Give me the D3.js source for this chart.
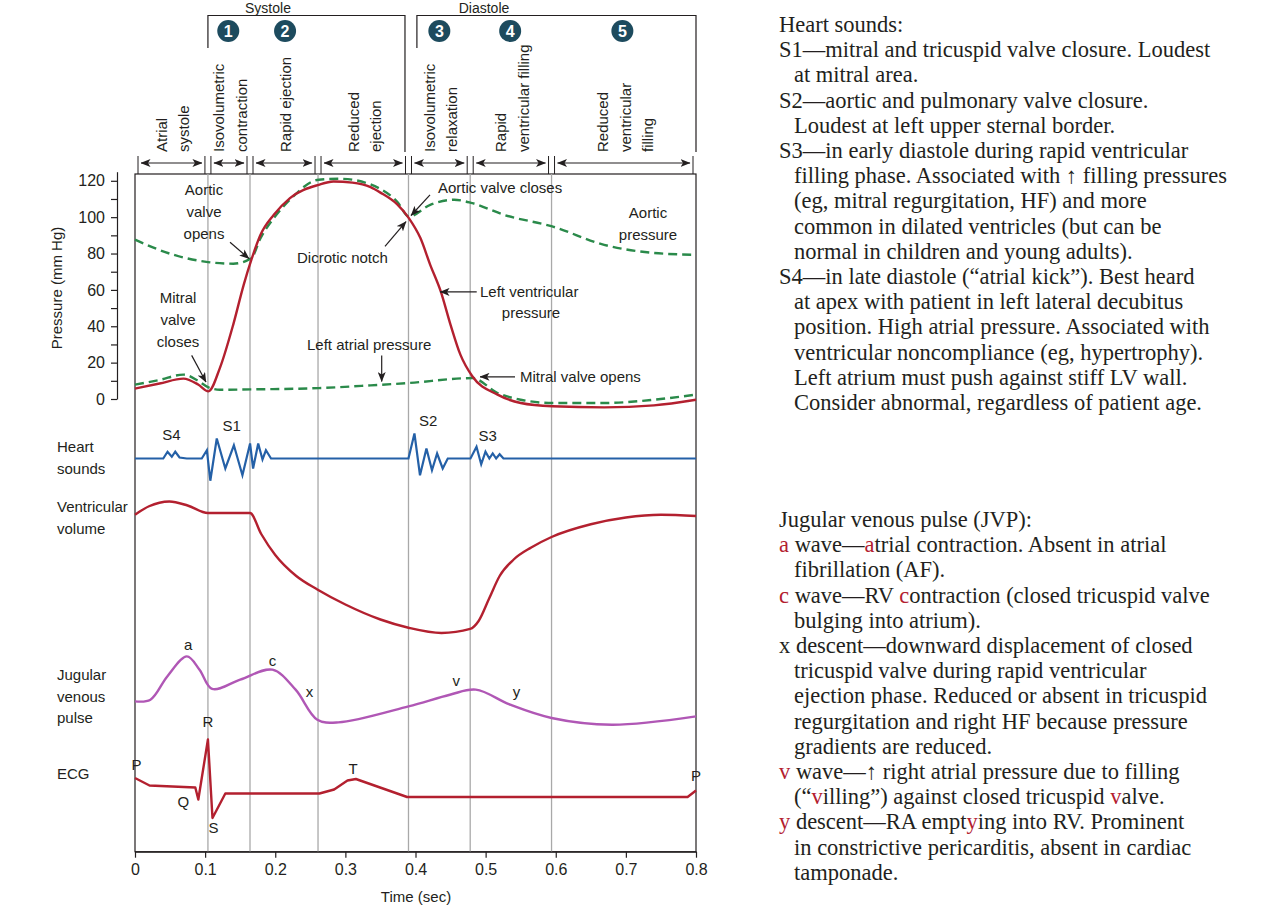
<!DOCTYPE html>
<html>
<head>
<meta charset="utf-8">
<script src="https://cdn.jsdelivr.net/npm/d3@7"></script>
<style>
  body { margin: 0; background: #fff; }
  svg { display: block; }
  .lab { font-family: "Liberation Sans Narrow", "Arial Narrow", "Liberation Sans", sans-serif; font-size: 15px; fill: #231f20; }
  .note { font-family: "Liberation Serif", "DejaVu Serif", serif; font-size: 22.5px; fill: #231f20; }
  .axis text { font-family: "Liberation Sans Narrow", "Liberation Sans", sans-serif; font-size: 16px; fill: #231f20; }
  .axis path, .axis line { stroke: #231f20; stroke-width: 1.2; }
</style>
</head>
<body>
<div id="chart"></div>
<script>
// phase boundaries (sec)
var phases = [0, 0.104, 0.164, 0.261, 0.390, 0.478, 0.594, 0.8];
var phaseNames = [
  ["Atrial", "systole"],
  ["Isovolumetric", "contraction"],
  ["Rapid ejection"],
  ["Reduced", "ejection"],
  ["Isovolumetric", "relaxation"],
  ["Rapid", "ventricular filling"],
  ["Reduced", "ventricular", "filling"]
];
var phaseNumbers = [["1", 0.133], ["2", 0.214], ["3", 0.434], ["4", 0.535], ["5", 0.695]];

// pressures (mm Hg) [t, p]
var lvPressure = [[0,5.7],[0.035,8.5],[0.069,11.2],[0.09,8],[0.1047,4.2],[0.121,17],[0.14,40.8],[0.155,62.8],
  [0.166,76.6],[0.179,90.3],[0.198,101.3],[0.221,110.5],[0.262,117.8],[0.283,119.6],[0.31,119],[0.336,116.5],
  [0.35,113.5],[0.374,107],[0.3905,99.5],[0.407,88.5],[0.421,73.8],[0.436,59.2],[0.45,40.8],[0.464,24.4],
  [0.481,12.5],[0.517,2.4],[0.55,-2.2],[0.595,-4.0],[0.669,-4.6],[0.74,-3.5],[0.8,-0.4]];
var aorticPressure = [[0,87.6],[0.055,79.3],[0.104,75.3],[0.14,74.4],[0.166,77.5],[0.179,88.5],[0.198,99.5],
  [0.221,109.6],[0.262,120.6],[0.293,121.1],[0.336,118],[0.35,115.5],[0.374,108.5],[0.3905,100.4],[0.421,106.8],
  [0.455,109.6],[0.481,107.7],[0.526,101.3],[0.595,94.9],[0.669,84.8],[0.74,80.3],[0.8,79.3]];
var atrialPressure = [[0,7.9],[0.035,10.5],[0.069,13.4],[0.09,10],[0.1047,6.4],[0.121,5.1],[0.166,5.3],[0.262,6.0],
  [0.336,7.5],[0.3905,8.8],[0.481,11.5],[0.517,3.3],[0.55,-0.4],[0.595,-2.2],[0.669,-2.2],[0.74,-0.4],[0.8,2.4]];

// heart sounds (relative amplitude)
var heartSounds = [[0,0],[0.0403,0],[0.0464,0.27],[0.0525,0.07],[0.0574,0.27],[0.0635,0.04],[0.0738,0],
  [0.0952,0],[0.1025,0.33],[0.1074,-0.89],[0.1166,0.8],[0.1288,-0.4],[0.141,0.53],[0.1532,-0.67],[0.1641,0.6],
  [0.1684,-0.4],[0.1757,0.6],[0.1818,-0.04],[0.1867,0.33],[0.194,0],
  [0.39,0],[0.3985,1.0],[0.4064,-0.67],[0.4156,0.4],[0.4235,-0.47],[0.4308,0.2],[0.4388,-0.4],[0.446,0],
  [0.4784,0],[0.487,0.47],[0.4937,-0.23],[0.4998,0.27],[0.5053,0],[0.5101,0.2],[0.515,0],[0.52,0.17],
  [0.5254,0],[0.5315,0],[0.8,0]];
var soundLabels = [["S4",0.052,0.95],["S1",0.138,1.3],["S2",0.418,1.5],["S3",0.503,0.9]];

// ventricular volume (mL)
var ventVolume = [[0,125.9],[0.02,131.5],[0.049,134.7],[0.075,132],[0.104,127],[0.164,127],[0.18,113],
  [0.2,99],[0.23,85],[0.26,76],[0.3,66],[0.35,56],[0.39,50.5],[0.437,47],[0.478,49.7],[0.49,55],[0.505,70],
  [0.52,85],[0.54,96],[0.565,104],[0.594,111],[0.65,119.5],[0.7,124],[0.75,125.8],[0.8,125]];

// jugular venous pulse (relative)
var jvp = [[0,3.58],[0.022,3.79],[0.046,6.7],[0.074,9.2],[0.092,7.54],[0.110,5.13],[0.15,6.29],[0.196,7.54],
  [0.229,5.04],[0.26,1.29],[0.29,0.95],[0.39,2.95],[0.449,4.41],[0.486,5.04],[0.535,3.16],[0.594,1.5],
  [0.68,0.66],[0.8,1.7]];
var jvpLabels = [["a",0.076,10.6],["c",0.196,8.6],["x",0.249,4.8],["v",0.458,6.1],["y",0.544,4.8]];

// ECG (mV)
var ecg = [[0,0.38],[0.0207,0.23],[0.086,0.19],[0.0903,-0.05],[0.104,1.15],[0.1105,-0.42],[0.1288,0.07],
  [0.263,0.07],[0.284,0.15],[0.303,0.33],[0.315,0.36],[0.3515,0.18],[0.388,0],[0.788,0],[0.8,0.13]];
var ecgLabels = [["P",0.002,0.65],["Q",0.069,-0.09],["R",0.104,1.5],["S",0.112,-0.62],["T",0.311,0.56],["P",0.8,0.42]];

var timeTicks = [0, 0.1, 0.2, 0.3, 0.4, 0.5, 0.6, 0.7, 0.8];
var pressureTicks = d3.range(0, 121, 10);

var heartNotes = [
  [0, "Heart sounds:"],
  [0, "S1—mitral and tricuspid valve closure. Loudest"],
  [1, "at mitral area."],
  [0, "S2—aortic and pulmonary valve closure."],
  [1, "Loudest at left upper sternal border."],
  [0, "S3—in early diastole during rapid ventricular"],
  [1, "filling phase. Associated with ↑ filling pressures"],
  [1, "(eg, mitral regurgitation, HF) and more"],
  [1, "common in dilated ventricles (but can be"],
  [1, "normal in children and young adults)."],
  [0, "S4—in late diastole (“atrial kick”). Best heard"],
  [1, "at apex with patient in left lateral decubitus"],
  [1, "position. High atrial pressure. Associated with"],
  [1, "ventricular noncompliance (eg, hypertrophy)."],
  [1, "Left atrium must push against stiff LV wall."],
  [1, "Consider abnormal, regardless of patient age."]
];
var jvpNotes = [
  [0, "Jugular venous pulse (JVP):"],
  [0, "[a] wave—[a]trial contraction. Absent in atrial"],
  [1, "fibrillation (AF)."],
  [0, "[c] wave—RV [c]ontraction (closed tricuspid valve"],
  [1, "bulging into atrium)."],
  [0, "x descent—downward displacement of closed"],
  [1, "tricuspid valve during rapid ventricular"],
  [1, "ejection phase. Reduced or absent in tricuspid"],
  [1, "regurgitation and right HF because pressure"],
  [1, "gradients are reduced."],
  [0, "[v] wave—↑ right atrial pressure due to filling"],
  [1, "(“[v]illing”) against closed tricuspid [v]alve."],
  [0, "[y] descent—RA empt[y]ing into RV. Prominent"],
  [1, "in constrictive pericarditis, absent in cardiac"],
  [1, "tamponade."]
];

var red = "#b3202f", green = "#2a8a4a", blue = "#2460a7", purple = "#b057b5", ink = "#231f20";

var svg = d3.select("#chart").append("svg").attr("width", 1276).attr("height", 918);

var x = d3.scaleLinear().domain([0, 0.8]).range([135, 696]);
var yP = d3.scaleLinear().domain([0, 125]).range([399, 171.7]);
var yS = d3.scaleLinear().domain([-1, 1]).range([483.5, 433.5]);
var yV = d3.scaleLinear().domain([45, 135]).range([636, 501]);
var yJ = d3.scaleLinear().domain([0, 10]).range([730, 650]);
var yE = d3.scaleLinear().domain([0, 1]).range([797, 747]);
var frameTop = 174, frameBottom = 851.7;

var defs = svg.append("defs");
defs.append("marker").attr("id", "head").attr("viewBox", "0 0 10 8")
  .attr("refX", 9.5).attr("refY", 4).attr("markerWidth", 10).attr("markerHeight", 8)
  .attr("markerUnits", "userSpaceOnUse").attr("orient", "auto-start-reverse")
  .append("path").attr("d", "M0,0 L10,4 L0,8 L2.5,4 Z").attr("fill", ink);

// frame
svg.append("rect").attr("x", x(0)).attr("y", frameTop).attr("width", x(0.8) - x(0)).attr("height", frameBottom - frameTop)
  .attr("fill", "none").attr("stroke", ink).attr("stroke-width", 1.2);

// phase dividers
svg.selectAll(".divider").data(phases.slice(1, -1)).join("line")
  .attr("x1", d => x(d)).attr("x2", d => x(d)).attr("y1", frameTop).attr("y2", frameBottom)
  .attr("stroke", "#a9a9a9").attr("stroke-width", 1.3);

// systole / diastole brackets [label, from, to, label x]
var brackets = [["Systole", phases[1], 0.385, 268], ["Diastole", 0.402, phases[7], 484]];
brackets.forEach(function(b) {
  svg.append("path")
    .attr("d", "M" + x(b[1]) + ",48 V15.5 H" + x(b[2]) + " V152")
    .attr("fill", "none").attr("stroke", ink).attr("stroke-width", 1.2);
  svg.append("text").attr("class", "lab").attr("x", b[3]).attr("y", 13)
    .attr("text-anchor", "middle").style("font-size", "14px").text(b[0]);
});

// numbered circles
var nums = svg.selectAll(".num").data(phaseNumbers).join("g")
  .attr("transform", d => "translate(" + x(d[1]) + ",31)");
nums.append("circle").attr("r", 11).attr("fill", "#1d4b5e");
nums.append("text").attr("text-anchor", "middle").attr("dy", "0.36em")
  .style("font-family", "Liberation Sans, sans-serif").style("font-weight", "bold")
  .style("font-size", "16px").attr("fill", "#fff").text(d => d[0]);

// phase names (rotated) and span arrows
phaseNames.forEach(function(lines, i) {
  var cx = x((phases[i] + phases[i + 1]) / 2) + 1.5;
  lines.forEach(function(l, j) {
    var lx = cx + (j - (lines.length - 1) / 2) * 22.5;
    svg.append("text").attr("class", "lab")
      .attr("transform", "translate(" + lx + ",152) rotate(-90)")
      .attr("dy", "0.35em").text(l);
  });
  var a = x(phases[i]), b = x(phases[i + 1]);
  svg.append("line").attr("x1", a + 6).attr("x2", b - 6).attr("y1", 163).attr("y2", 163)
    .attr("stroke", ink).attr("stroke-width", 1.2)
    .attr("marker-start", "url(#head)").attr("marker-end", "url(#head)");
  [a + 3, b - 3].forEach(function(tx) {
    svg.append("line").attr("x1", tx).attr("x2", tx).attr("y1", 156).attr("y2", frameTop)
      .attr("stroke", ink).attr("stroke-width", 1);
  });
});

// pressure axis
svg.append("g").attr("class", "axis").attr("transform", "translate(117,0)")
  .call(d3.axisLeft(yP).tickValues(pressureTicks).tickSize(6).tickPadding(6).tickSizeOuter(0)
    .tickFormat(d => d % 20 === 0 ? d : ""));
svg.append("text").attr("class", "lab").attr("transform", "translate(57,288) rotate(-90)")
  .attr("text-anchor", "middle").attr("dy", "0.35em").text("Pressure (mm Hg)");

// time axis
svg.append("g").attr("class", "axis").attr("transform", "translate(0," + frameBottom + ")")
  .call(d3.axisBottom(x).tickValues(timeTicks).tickSize(6).tickPadding(6).tickSizeOuter(0)
    .tickFormat(d => d === 0 ? "0" : d3.format(".1f")(d)));
svg.append("text").attr("class", "lab").attr("x", 416).attr("y", 902).attr("text-anchor", "middle").text("Time (sec)");

// curves
var smooth = function(ys) {
  return d3.line().x(d => x(d[0])).y(d => ys(d[1])).curve(d3.curveMonotoneX);
};
var straight = function(ys) {
  return d3.line().x(d => x(d[0])).y(d => ys(d[1]));
};

svg.append("path").attr("d", smooth(yP)(aorticPressure)).attr("fill", "none")
  .attr("stroke", green).attr("stroke-width", 2.4).attr("stroke-dasharray", "9,5");
svg.append("path").attr("d", smooth(yP)(atrialPressure)).attr("fill", "none")
  .attr("stroke", green).attr("stroke-width", 2.4).attr("stroke-dasharray", "9,5");
svg.append("path").attr("d", smooth(yP)(lvPressure)).attr("fill", "none")
  .attr("stroke", red).attr("stroke-width", 2.4);

svg.append("path").attr("d", straight(yS)(heartSounds)).attr("fill", "none")
  .attr("stroke", blue).attr("stroke-width", 2.2);
svg.append("path").attr("d", smooth(yV)(ventVolume)).attr("fill", "none")
  .attr("stroke", red).attr("stroke-width", 2.4);
svg.append("path").attr("d", d3.line().x(d => x(d[0])).y(d => yJ(d[1])).curve(d3.curveCatmullRom.alpha(0.5))(jvp))
  .attr("fill", "none").attr("stroke", purple).attr("stroke-width", 2.4);
svg.append("path").attr("d", straight(yE)(ecg)).attr("fill", "none")
  .attr("stroke", red).attr("stroke-width", 2.4).attr("stroke-linejoin", "round");

// pressure annotations [lines, anchor, t, p]
var pressureNotes = [
  [["Aortic", "valve", "opens"], "middle", 0.0984, 114.9],
  [["Mitral", "valve", "closes"], "middle", 0.0613, 55.5],
  [["Dicrotic notch"], "start", 0.231, 77.5],
  [["Aortic valve closes"], "start", 0.4321, 116],
  [["Aortic", "pressure"], "middle", 0.7316, 102.3],
  [["Left ventricular"], "start", 0.492, 58.8],
  [["pressure"], "middle", 0.5647, 47.3],
  [["Mitral valve opens"], "start", 0.549, 12.1],
  [["Left atrial pressure"], "start", 0.2453, 29.7]
];
pressureNotes.forEach(function(n) {
  n[0].forEach(function(l, j) {
    svg.append("text").attr("class", "lab").attr("x", x(n[2])).attr("y", yP(n[3]) + j * 21.8)
      .attr("dy", "0.35em").attr("text-anchor", n[1]).text(l);
  });
});
var pressureArrows = [
  [0.1355, 86.2, 0.1626, 77.2], [0.0808, 24.0, 0.1012, 9.3], [0.3565, 83.9, 0.3865, 97.6],
  [0.4207, 112.3, 0.3936, 100.9], [0.4873, 58.9, 0.4350, 58.9], [0.5419, 12.2, 0.4920, 12.2],
  [0.3518, 23.9, 0.3518, 9.6]
];
svg.selectAll(".arrow").data(pressureArrows).join("line")
  .attr("x1", d => x(d[0])).attr("y1", d => yP(d[1])).attr("x2", d => x(d[2])).attr("y2", d => yP(d[3]))
  .attr("stroke", ink).attr("stroke-width", 1.2).attr("marker-end", "url(#head)");

// trace labels
var rowLabels = [[["Heart", "sounds"], 447], [["Ventricular", "volume"], 507], [["Jugular", "venous", "pulse"], 675], [["ECG"], 774]];
rowLabels.forEach(function(r) {
  r[0].forEach(function(l, j) {
    svg.append("text").attr("class", "lab").attr("x", 57).attr("y", r[1] + j * 21.6).attr("dy", "0.35em").text(l);
  });
});
soundLabels.forEach(function(s) {
  svg.append("text").attr("class", "lab").attr("x", x(s[1])).attr("y", yS(s[2])).attr("dy", "0.35em")
    .attr("text-anchor", "middle").text(s[0]);
});
jvpLabels.forEach(function(s) {
  svg.append("text").attr("class", "lab").attr("x", x(s[1])).attr("y", yJ(s[2])).attr("dy", "0.35em")
    .attr("text-anchor", "middle").text(s[0]);
});
ecgLabels.forEach(function(s) {
  svg.append("text").attr("class", "lab").attr("x", x(s[1])).attr("y", yE(s[2])).attr("dy", "0.35em")
    .attr("text-anchor", "middle").text(s[0]);
});

// side notes
function writeNotes(lines, y0) {
  lines.forEach(function(l, i) {
    var t = svg.append("text").attr("class", "note").attr("x", l[0] ? 794 : 779).attr("y", y0 + i * 25.2);
    l[1].split(/(\[[^\]]+\])/).forEach(function(part) {
      if (!part) return;
      if (part[0] === "[") t.append("tspan").attr("fill", red).text(part.slice(1, -1));
      else t.append("tspan").text(part);
    });
  });
}
writeNotes(heartNotes, 32);
writeNotes(jvpNotes, 527);
</script>
</body>
</html>
